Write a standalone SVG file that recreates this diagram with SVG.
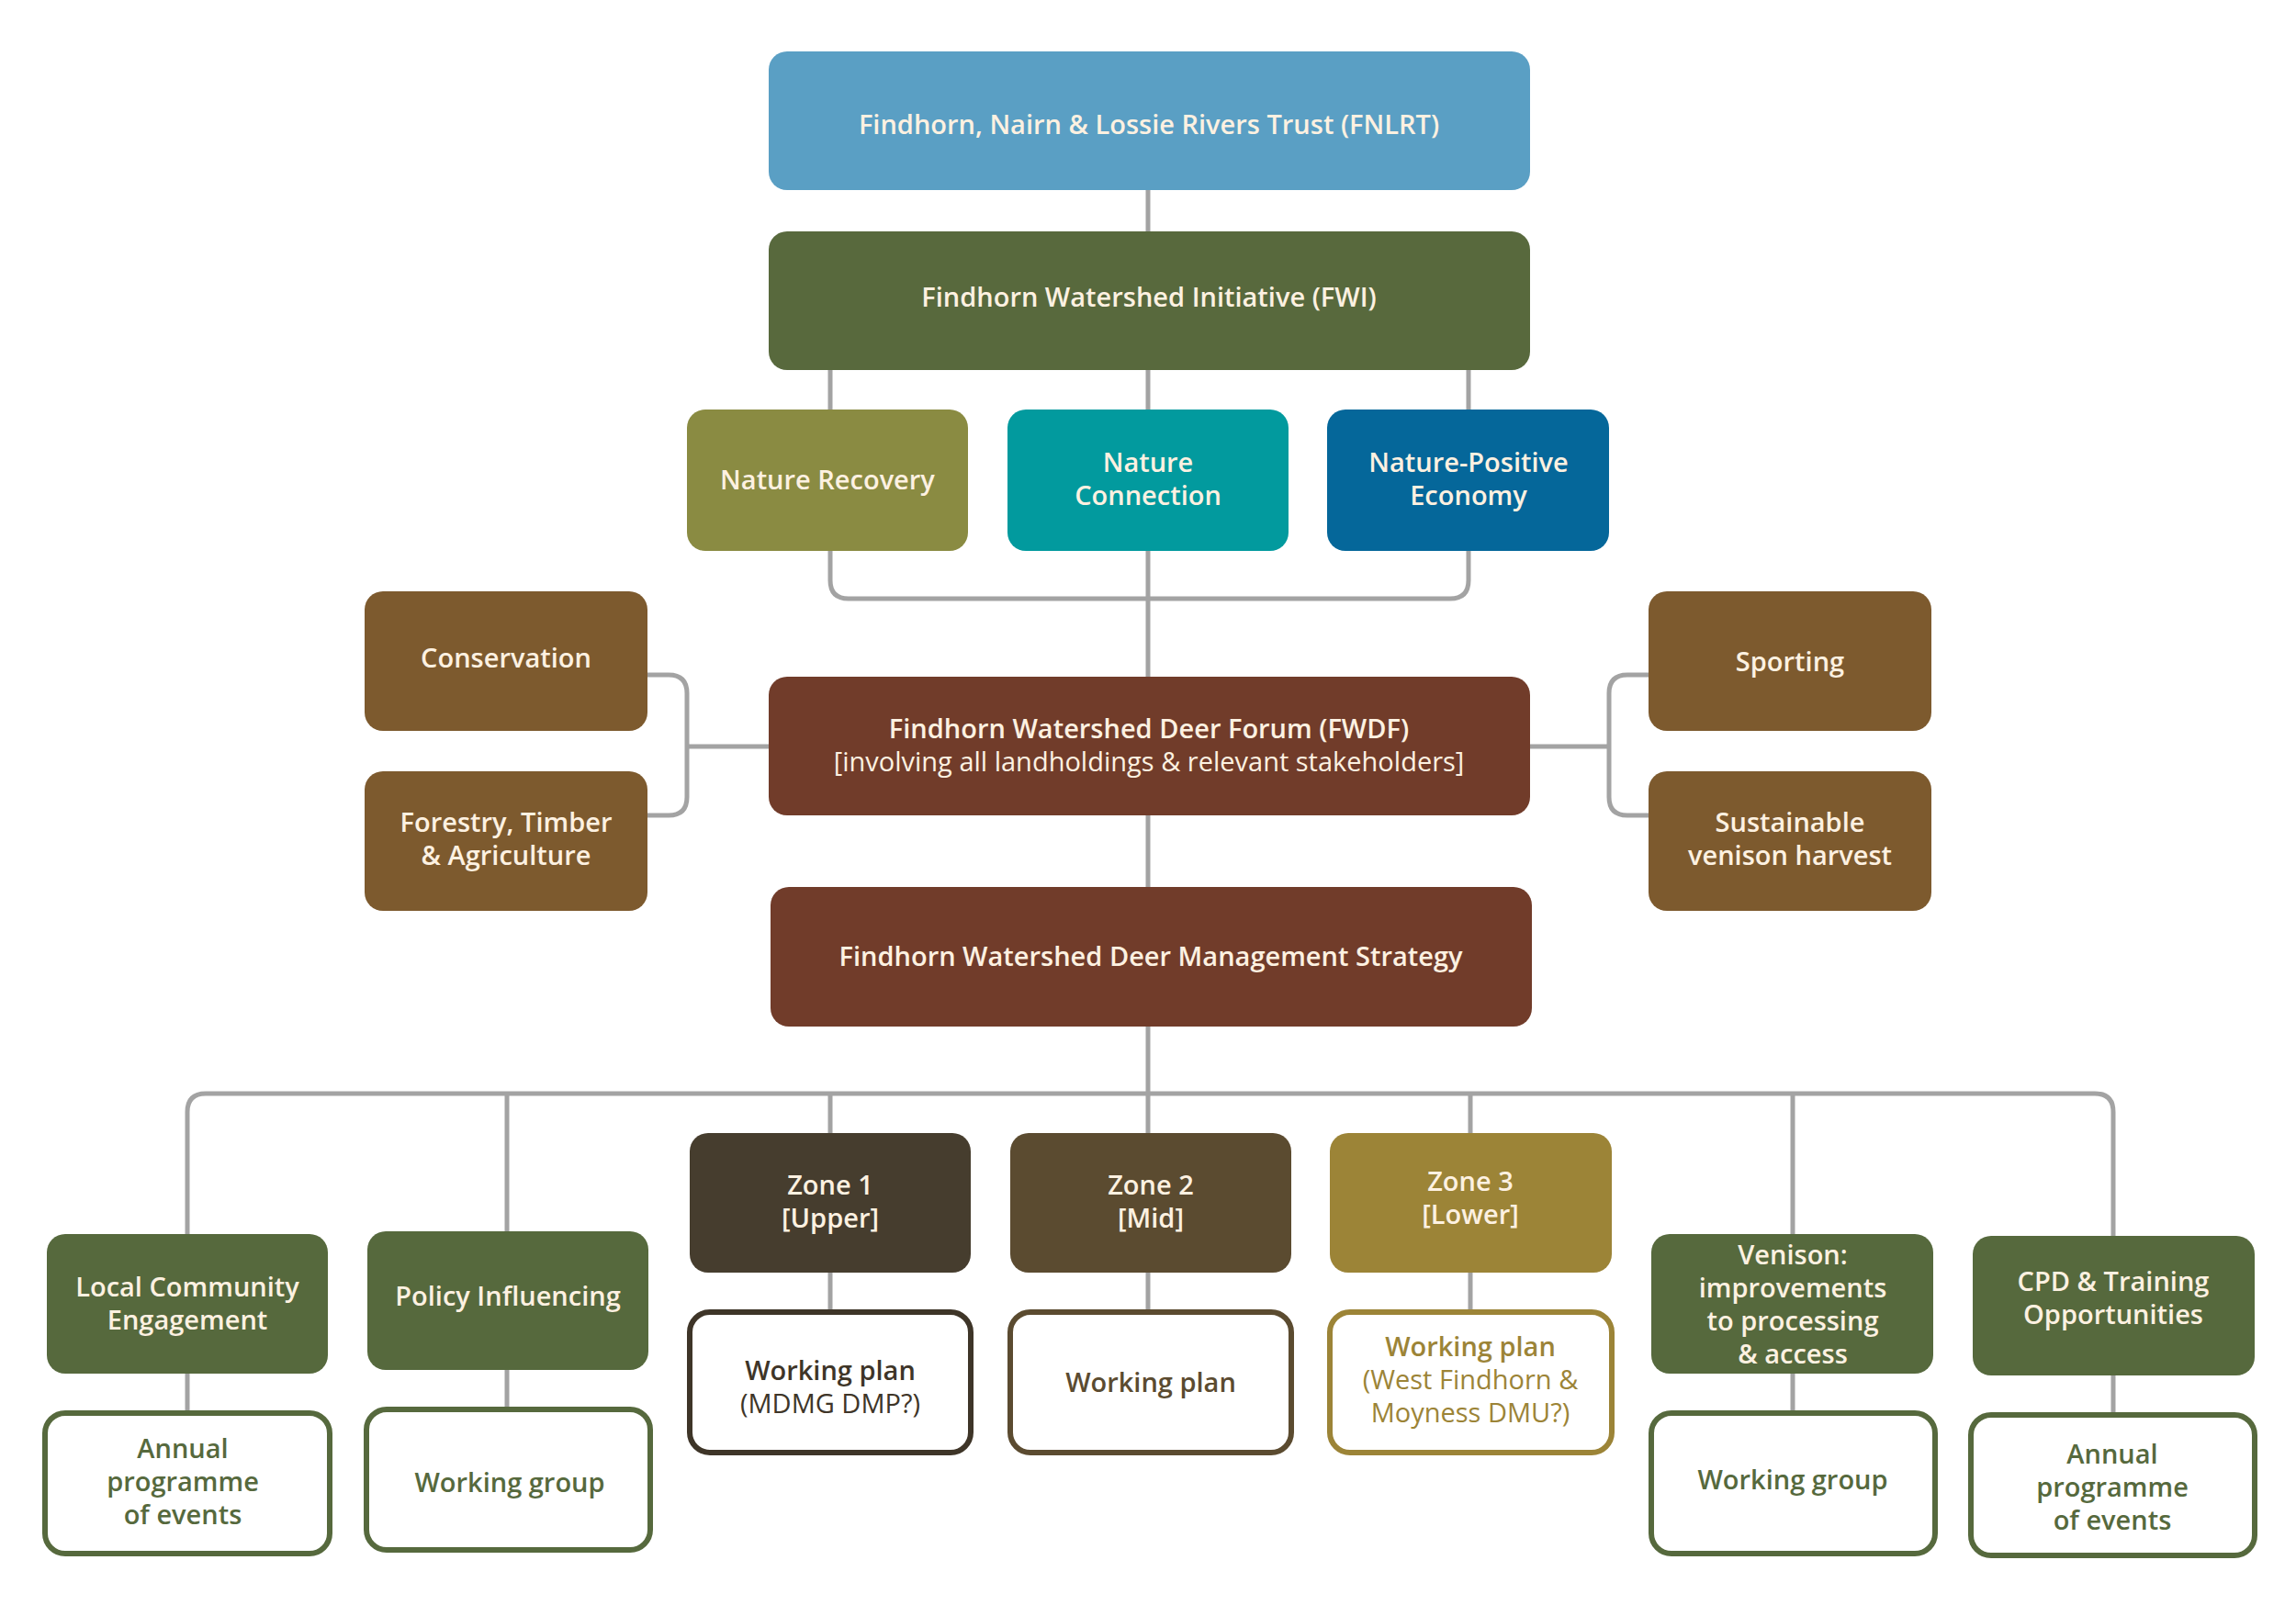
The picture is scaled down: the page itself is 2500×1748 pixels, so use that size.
<svg xmlns="http://www.w3.org/2000/svg" width="2500" height="1748" viewBox="0 0 2500 1748">
<style>
text{font-family:"Open Sans","Liberation Sans",sans-serif;font-weight:600;font-size:29px;text-anchor:middle;fill:#fdf1e1}
.c{fill:none;stroke:#a3a3a3;stroke-width:5;stroke-linejoin:round}
.o{fill:#fff;stroke-width:6}
.g{fill:#56693d}
.br{fill:#7d5a2e}
.dr{fill:#713c2a}
</style>
<rect width="2500" height="1748" fill="#fff"/>
<g id="connectors">
<path class="c" d="M1250 207V252M1250 403V446M904 403V446M1599 403V446M904 600V632Q904 652 924 652H1579Q1599 652 1599 632V600M1250 600V737M1250 888V966M1250 1118V1191"/>
<path class="c" d="M705 735H728Q748 735 748 755V868Q748 888 728 888H705M748 813H837"/>
<path class="c" d="M1795 735H1772Q1752 735 1752 755V868Q1752 888 1772 888H1795M1752 813H1666"/>
<path class="c" d="M204 1344V1211Q204 1191 224 1191H2281Q2301 1191 2301 1211V1346M552 1191V1341M904 1191V1234M1250 1191V1234M1601 1191V1234M1952 1191V1344"/>
<path class="c" d="M904 1386V1429M1250 1386V1429M1601 1386V1429M204 1496V1539M552 1492V1535M1952 1496V1539M2301 1498V1541"/>
</g>
<g id="fnlrt"><rect x="837" y="56" width="829" height="151" rx="20" fill="#5a9fc4"/><text x="1251" y="146">Findhorn, Nairn &amp; Lossie Rivers Trust (FNLRT)</text></g>
<g id="fwi"><rect x="837" y="252" width="829" height="151" rx="20" fill="#58693d"/><text x="1251" y="334">Findhorn Watershed Initiative (FWI)</text></g>
<g id="recovery"><rect x="748" y="446" width="306" height="154" rx="20" fill="#8a8b42"/><text x="901" y="533">Nature Recovery</text></g>
<g id="connection"><rect x="1097" y="446" width="306" height="154" rx="20" fill="#029a9e"/><text x="1250" y="514">Nature</text><text x="1250" y="550">Connection</text></g>
<g id="positive"><rect x="1445" y="446" width="307" height="154" rx="20" fill="#05679a"/><text x="1599" y="514">Nature-Positive</text><text x="1599" y="550">Economy</text></g>
<g id="conservation"><rect class="br" x="397" y="644" width="308" height="152" rx="20"/><text x="551" y="727">Conservation</text></g>
<g id="forestry"><rect class="br" x="397" y="840" width="308" height="152" rx="20"/><text x="551" y="906">Forestry, Timber</text><text x="551" y="942">&amp; Agriculture</text></g>
<g id="sporting"><rect class="br" x="1795" y="644" width="308" height="152" rx="20"/><text x="1949" y="731">Sporting</text></g>
<g id="venisonharvest"><rect class="br" x="1795" y="840" width="308" height="152" rx="20"/><text x="1949" y="906">Sustainable</text><text x="1949" y="942">venison harvest</text></g>
<g id="fwdf"><rect class="dr" x="837" y="737" width="829" height="151" rx="20"/><text x="1251" y="804">Findhorn Watershed Deer Forum (FWDF)</text><text x="1251" y="840" style="font-weight:400">[involving all landholdings &amp; relevant stakeholders]</text></g>
<g id="strategy"><rect class="dr" x="839" y="966" width="829" height="152" rx="20"/><text x="1253" y="1052">Findhorn Watershed Deer Management Strategy</text></g>
<g id="zone1"><rect x="751" y="1234" width="306" height="152" rx="20" fill="#463d2e"/><text x="904" y="1301">Zone 1</text><text x="904" y="1337">[Upper]</text></g>
<g id="zone2"><rect x="1100" y="1234" width="306" height="152" rx="20" fill="#5b4b30"/><text x="1253" y="1301">Zone 2</text><text x="1253" y="1337">[Mid]</text></g>
<g id="zone3"><rect x="1448" y="1234" width="307" height="152" rx="20" fill="#9c8437"/><text x="1601" y="1297">Zone 3</text><text x="1601" y="1333">[Lower]</text></g>
<g id="wp1"><rect class="o" x="751" y="1429" width="306" height="153" rx="22" stroke="#3e3528"/><text x="904" y="1503" fill="#3e3528" style="fill:#3e3528">Working plan</text><text x="904" y="1539" style="fill:#3e3528;font-weight:400">(MDMG DMP?)</text></g>
<g id="wp2"><rect class="o" x="1100" y="1429" width="306" height="153" rx="22" stroke="#5b4b30"/><text x="1253" y="1516" style="fill:#5b4b30">Working plan</text></g>
<g id="wp3"><rect class="o" x="1448" y="1429" width="307" height="153" rx="22" stroke="#9c8437"/><text x="1601" y="1477" style="fill:#9c8437">Working plan</text><text x="1601" y="1513" style="fill:#9c8437;font-weight:400">(West Findhorn &amp;</text><text x="1601" y="1549" style="fill:#9c8437;font-weight:400">Moyness DMU?)</text></g>
<g id="local"><rect class="g" x="51" y="1344" width="306" height="152" rx="20"/><text x="204" y="1412">Local Community</text><text x="204" y="1448">Engagement</text></g>
<g id="policy"><rect class="g" x="400" y="1341" width="306" height="151" rx="20"/><text x="553" y="1422">Policy Influencing</text></g>
<g id="venison"><rect class="g" x="1798" y="1344" width="307" height="152" rx="20"/><text x="1952" y="1377">Venison:</text><text x="1952" y="1413">improvements</text><text x="1952" y="1449">to  processing</text><text x="1952" y="1485">&amp; access</text></g>
<g id="cpd"><rect class="g" x="2148" y="1346" width="307" height="152" rx="20"/><text x="2301" y="1406">CPD &amp; Training</text><text x="2301" y="1442">Opportunities</text></g>
<g id="annual1"><rect class="o" x="49" y="1539" width="310" height="153" rx="22" stroke="#56693d"/><text x="199" y="1588" style="fill:#56693d">Annual</text><text x="199" y="1624" style="fill:#56693d">programme</text><text x="199" y="1660" style="fill:#56693d">of events</text></g>
<g id="wg1"><rect class="o" x="399" y="1535" width="309" height="153" rx="22" stroke="#56693d"/><text x="555" y="1625" style="fill:#56693d">Working group</text></g>
<g id="wg2"><rect class="o" x="1798" y="1539" width="309" height="153" rx="22" stroke="#56693d"/><text x="1952" y="1622" style="fill:#56693d">Working group</text></g>
<g id="annual2"><rect class="o" x="2146" y="1541" width="309" height="153" rx="22" stroke="#56693d"/><text x="2300" y="1594" style="fill:#56693d">Annual</text><text x="2300" y="1630" style="fill:#56693d">programme</text><text x="2300" y="1666" style="fill:#56693d">of events</text></g>
</svg>
